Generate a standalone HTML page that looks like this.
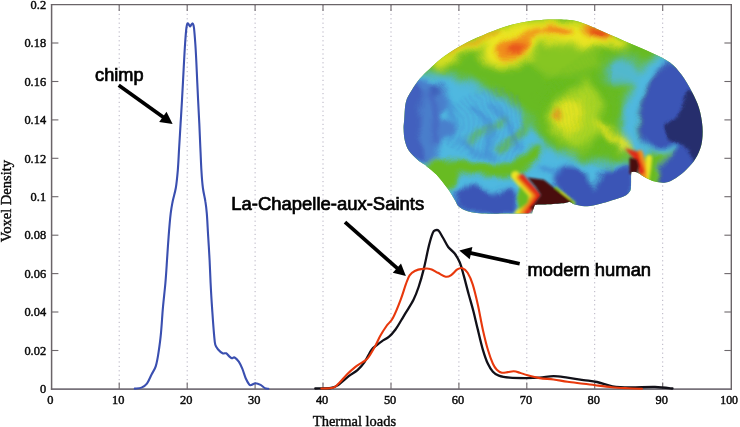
<!DOCTYPE html>
<html><head><meta charset="utf-8"><title>Voxel density vs thermal loads</title>
<style>
html,body{margin:0;padding:0;background:#fff}
svg{display:block}
.tk{font-family:"Liberation Serif",serif;font-size:12.4px;fill:#0a0a0a;stroke:#0a0a0a;stroke-width:0.45px}
.ax{font-family:"Liberation Serif",serif;font-size:14.5px;fill:#0a0a0a;stroke:#0a0a0a;stroke-width:0.4px}
.lb{font-family:"Liberation Sans",sans-serif;font-size:18.2px;fill:#000;stroke:#000;stroke-width:0.7px}
</style></head><body>
<svg width="740" height="427" viewBox="0 0 740 427">
<rect width="740" height="427" fill="#fff"/>
<g stroke="#b4b0c0" stroke-width="1" stroke-dasharray="1.2 3.2"><line x1="119.2" y1="5" x2="119.2" y2="388" /><line x1="187.2" y1="5" x2="187.2" y2="388" /><line x1="255.1" y1="5" x2="255.1" y2="388" /><line x1="323.0" y1="5" x2="323.0" y2="388" /><line x1="391.0" y1="5" x2="391.0" y2="388" /><line x1="458.9" y1="5" x2="458.9" y2="388" /><line x1="526.8" y1="5" x2="526.8" y2="388" /><line x1="594.7" y1="5" x2="594.7" y2="388" /><line x1="662.7" y1="5" x2="662.7" y2="388" /></g>
<defs><clipPath id="bc"><path d="M404.2 120.0C404.6 115.5 404.6 107.0 405.9 102.0C407.1 97.0 409.4 94.2 411.7 90.3C414.0 86.4 417.0 82.1 419.9 78.6C422.8 75.1 425.8 72.5 429.3 69.2C432.8 65.9 436.1 62.4 441.0 58.7C445.9 55.0 452.6 50.5 458.6 47.0C464.7 43.5 470.7 40.6 477.3 37.6C483.9 34.6 491.8 31.2 498.4 28.9C505.0 26.5 511.1 24.9 517.2 23.5C523.3 22.1 528.5 21.2 535.0 20.5C541.5 19.8 548.8 19.3 556.0 19.5C563.2 19.7 569.8 19.3 578.0 21.5C586.2 23.7 596.5 28.9 605.0 32.5C613.5 36.1 621.2 39.6 629.0 43.0C636.8 46.4 645.2 49.8 652.0 53.0C658.8 56.2 665.1 58.9 670.0 62.5C674.9 66.1 677.7 69.7 681.4 74.6C685.1 79.5 689.1 86.4 692.0 92.0C694.9 97.6 697.2 102.2 699.0 108.0C700.8 113.8 702.1 120.9 702.5 127.0C702.9 133.1 702.6 139.4 701.4 144.7C700.2 150.0 697.8 154.7 695.4 158.8C693.0 162.9 689.9 166.1 686.7 169.3C683.5 172.5 679.5 175.8 676.0 178.0C672.5 180.2 669.1 182.0 665.6 182.6C662.1 183.2 658.2 182.4 655.0 181.6C651.8 180.8 649.1 179.4 646.3 178.0C643.5 176.6 640.3 173.9 638.0 172.9C635.7 171.9 633.7 171.8 632.6 171.9C631.5 172.0 631.5 170.7 631.2 173.4C630.9 176.1 631.3 184.8 630.9 188.0C630.5 191.2 630.1 191.2 629.0 192.5C627.9 193.8 627.0 194.8 624.5 196.0C622.0 197.2 618.7 198.3 614.0 199.8C609.3 201.3 601.4 203.7 596.5 204.8C591.6 205.9 588.2 206.3 584.6 206.3C581.0 206.3 577.4 205.3 575.0 204.6C572.6 203.9 571.7 202.2 570.0 201.9C568.3 201.6 568.5 202.6 565.0 203.0C561.5 203.4 553.8 204.0 549.0 204.3C544.2 204.6 538.6 204.5 536.2 204.7C533.8 204.9 535.3 204.3 534.6 205.6C533.9 206.9 532.8 211.1 532.2 212.4C531.6 213.7 534.3 213.1 531.0 213.3C527.7 213.5 520.7 213.6 512.5 213.6C504.3 213.6 489.6 213.8 482.0 213.4C474.4 213.0 470.9 212.1 467.0 211.0C463.1 209.9 460.8 208.5 458.7 206.6C456.6 204.7 456.5 202.7 454.6 199.7C452.8 196.7 450.6 192.8 447.6 188.6C444.6 184.4 440.1 178.5 436.6 174.8C433.1 171.1 428.5 167.9 426.5 166.2C424.5 164.5 426.1 165.7 424.5 164.6C422.9 163.5 419.8 161.7 417.2 159.4C414.6 157.1 410.9 153.9 408.9 150.8C406.8 147.7 405.8 144.6 404.9 141.0C404.0 137.4 403.7 132.5 403.6 129.0C403.5 125.5 403.8 124.5 404.2 120.0Z"/></clipPath><filter id="b4" x="-20%" y="-20%" width="140%" height="140%"><feGaussianBlur stdDeviation="4"/></filter><filter id="b25" x="-20%" y="-20%" width="140%" height="140%"><feGaussianBlur stdDeviation="2.5"/></filter><filter id="b15" x="-20%" y="-20%" width="140%" height="140%"><feGaussianBlur stdDeviation="1.4"/></filter><filter id="b08" x="-20%" y="-20%" width="140%" height="140%"><feGaussianBlur stdDeviation="0.8"/></filter><filter id="warp" filterUnits="userSpaceOnUse" x="385" y="0" width="340" height="235"><feTurbulence type="fractalNoise" baseFrequency="0.045" numOctaves="2" seed="7" result="n"/><feDisplacementMap in="SourceGraphic" in2="n" scale="11" xChannelSelector="R" yChannelSelector="G"/></filter></defs>
<g clip-path="url(#bc)"><rect x="380" y="0" width="350" height="240" fill="#68bb22"/><g filter="url(#warp)"><rect x="380" y="0" width="350" height="240" fill="#68bb22"/><g filter="url(#b4)"><polygon points="395.0,70.0 430.0,72.0 458.6,77.0 482.0,87.0 505.5,98.0 522.0,109.0 532.0,121.0 540.0,136.0 548.0,146.0 558.0,151.0 582.0,158.0 605.0,161.0 629.0,163.0 640.0,166.0 640.0,225.0 450.0,225.0 395.0,160.0" fill="#4fb8e0"/><ellipse cx="622.0" cy="70.0" rx="19.0" ry="13.0" fill="#4fb8e0" transform="rotate(-10 622.0 70.0)" opacity="0.90"/><ellipse cx="640.0" cy="84.0" rx="10.0" ry="12.0" fill="#4fb8e0" opacity="0.70"/><polyline points="666.0,62.0 652.0,73.0 641.0,88.0 633.0,108.0 630.0,128.0 632.0,142.0 642.0,151.0" fill="none" stroke="#4fb8e0" stroke-width="20.0" stroke-linecap="round" stroke-linejoin="round"/></g><g filter="url(#b25)"><polyline points="432.0,168.0 458.6,166.0 482.0,169.5 500.0,171.0 513.0,170.0 524.0,164.0 536.0,152.0" fill="none" stroke="#68bb22" stroke-width="13.0" stroke-linecap="round" stroke-linejoin="round"/><polygon points="430.0,163.0 450.0,168.0 457.0,176.0 453.0,186.0 447.0,192.0 430.0,184.0 424.0,167.0" fill="#68bb22"/><polyline points="470.0,140.0 490.0,128.0 505.0,120.0" fill="none" stroke="#68bb22" stroke-width="7.0" stroke-linecap="round" stroke-linejoin="round" opacity="0.60"/><polyline points="500.0,150.0 520.0,135.0 530.0,120.0" fill="none" stroke="#68bb22" stroke-width="8.0" stroke-linecap="round" stroke-linejoin="round" opacity="0.70"/><polyline points="474.0,108.0 486.0,122.0 492.0,140.0 488.0,152.0" fill="none" stroke="#3f7ccf" stroke-width="6.0" stroke-linecap="round" stroke-linejoin="round" opacity="0.55"/><polyline points="492.0,106.0 506.0,120.0 514.0,136.0 516.0,150.0" fill="none" stroke="#3f7ccf" stroke-width="6.0" stroke-linecap="round" stroke-linejoin="round" opacity="0.50"/><polyline points="448.0,100.0 454.0,118.0 452.0,136.0" fill="none" stroke="#3f7ccf" stroke-width="7.0" stroke-linecap="round" stroke-linejoin="round" opacity="0.50"/><polyline points="462.0,140.0 476.0,152.0 494.0,158.0" fill="none" stroke="#3f7ccf" stroke-width="6.0" stroke-linecap="round" stroke-linejoin="round" opacity="0.50"/><polyline points="649.0,182.0 654.0,168.0 662.0,157.0 673.0,149.0" fill="none" stroke="#68bb22" stroke-width="9.0" stroke-linecap="round" stroke-linejoin="round"/><polygon points="395.0,80.0 423.0,78.6 447.0,90.0 446.0,109.0 438.0,120.0 452.0,122.0 460.0,130.0 442.0,140.0 436.0,160.0 425.8,164.0 395.0,160.0" fill="#4a7fcc"/><polygon points="395.0,84.0 416.0,84.0 424.0,92.0 420.0,108.0 419.0,128.0 424.0,150.0 426.0,164.0 395.0,160.0" fill="#4360be"/><ellipse cx="436.0" cy="90.0" rx="7.0" ry="7.0" fill="#3f5cb8" opacity="0.80"/><polyline points="430.0,96.0 434.0,112.0 432.0,128.0 436.0,140.0" fill="none" stroke="#4666c2" stroke-width="7.0" stroke-linecap="round" stroke-linejoin="round" opacity="0.80"/><polygon points="456.0,188.0 477.0,185.6 493.7,194.0 510.0,186.8 517.0,197.0 516.0,215.0 470.0,215.0 454.0,203.0" fill="#3b55b6"/><polygon points="553.0,179.0 558.0,169.0 568.0,165.0 580.0,167.0 588.0,173.0 598.0,171.0 612.0,170.0 628.0,165.0 634.0,172.0 634.0,215.0 575.0,215.0 572.0,200.0 560.0,190.0" fill="#3b55b6"/><polygon points="585.0,168.0 601.0,168.0 598.0,182.0 593.5,190.0 589.0,182.0" fill="#4fb8e0"/><polyline points="542.0,166.0 552.0,170.0 560.0,172.0" fill="none" stroke="#3f7ccf" stroke-width="5.0" stroke-linecap="round" stroke-linejoin="round" opacity="0.70"/><polygon points="668.0,60.0 690.0,70.0 712.0,90.0 712.0,190.0 660.0,190.0 657.0,168.0 668.0,158.0 676.0,148.0 662.0,151.0 650.0,149.0 642.0,143.0 638.0,132.0 639.0,112.0 644.0,96.0 650.0,84.0 658.0,72.0" fill="#3b55b6"/><polyline points="640.0,140.0 647.0,147.0 656.0,150.5 666.0,151.0 675.0,146.5" fill="none" stroke="#4fb8e0" stroke-width="4.5" stroke-linecap="round" stroke-linejoin="round"/></g><g filter="url(#b4)"><polyline points="438.0,64.0 458.6,50.5 477.3,41.0 498.4,33.0 517.2,28.0 535.0,25.5 556.0,24.5 578.0,26.5 600.0,34.0 622.0,44.0" fill="none" stroke="#ece522" stroke-width="11.0" stroke-linecap="round" stroke-linejoin="round"/><ellipse cx="510.0" cy="49.5" rx="29.0" ry="17.0" fill="#ece522" transform="rotate(-18 510.0 49.5)"/><ellipse cx="572.0" cy="35.0" rx="46.0" ry="11.0" fill="#ece522" transform="rotate(5 572.0 35.0)"/><ellipse cx="566.0" cy="60.0" rx="36.0" ry="17.0" fill="#b4d826" opacity="0.40"/><polygon points="588.0,80.0 601.0,104.0 601.0,132.0 586.0,146.0 572.0,152.0 556.0,138.0 545.0,114.0 558.0,97.0 574.0,90.0" fill="#b4d826"/><ellipse cx="568.0" cy="116.0" rx="15.0" ry="19.0" fill="#ece522" transform="rotate(20 568.0 116.0)"/><polyline points="598.0,122.0 612.0,133.0 626.0,148.0" fill="none" stroke="#ece522" stroke-width="7.0" stroke-linecap="round" stroke-linejoin="round"/><polyline points="610.0,130.0 624.0,148.0" fill="none" stroke="#ece522" stroke-width="5.0" stroke-linecap="round" stroke-linejoin="round"/></g><g filter="url(#b25)"><ellipse cx="513.5" cy="48.5" rx="18.0" ry="11.0" fill="#f08c1e" transform="rotate(-22 513.5 48.5)"/><polyline points="520.0,40.0 530.0,34.0 538.0,31.0" fill="none" stroke="#f08c1e" stroke-width="6.0" stroke-linecap="round" stroke-linejoin="round"/><polyline points="452.0,52.0 466.0,44.5 482.0,37.5 500.0,30.5" fill="none" stroke="#f08c1e" stroke-width="2.5" stroke-linecap="round" stroke-linejoin="round" opacity="0.90"/><ellipse cx="516.5" cy="49.5" rx="9.0" ry="6.5" fill="#e8501a" transform="rotate(-20 516.5 49.5)" opacity="0.85"/><ellipse cx="557.0" cy="30.5" rx="16.0" ry="4.5" fill="#f08c1e" transform="rotate(2 557.0 30.5)"/><ellipse cx="597.0" cy="31.0" rx="16.0" ry="5.5" fill="#f08c1e" transform="rotate(14 597.0 31.0)"/><ellipse cx="598.0" cy="31.0" rx="10.0" ry="3.6" fill="#e02a14" transform="rotate(14 598.0 31.0)" opacity="0.75"/><ellipse cx="570.0" cy="113.0" rx="9.0" ry="13.0" fill="#f2e824" transform="rotate(20 570.0 113.0)" opacity="0.85"/><ellipse cx="558.0" cy="115.0" rx="5.0" ry="7.0" fill="#f08c1e" opacity="0.80"/><polyline points="603.0,125.0 614.0,136.0 625.0,148.0" fill="none" stroke="#ece522" stroke-width="4.5" stroke-linecap="round" stroke-linejoin="round" opacity="0.90"/></g><path d="M533.7 93.7 A44.0 44.0 0 0 1 540.2 139.9M536.8 91.1 A48.0 48.0 0 0 1 543.9 141.5M539.8 88.6 A52.0 52.0 0 0 1 547.5 143.2M542.9 86.0 A56.0 56.0 0 0 1 551.2 144.8M546.0 83.4 A60.0 60.0 0 0 1 554.8 146.4M549.0 80.9 A64.0 64.0 0 0 1 558.5 148.0M552.1 78.3 A68.0 68.0 0 0 1 562.1 149.7M555.2 75.7 A72.0 72.0 0 0 1 565.8 151.3M558.2 73.1 A76.0 76.0 0 0 1 569.4 152.9M561.3 70.6 A80.0 80.0 0 0 1 573.1 154.5M564.3 68.0 A84.0 84.0 0 0 1 576.7 156.2M567.4 65.4 A88.0 88.0 0 0 1 580.4 157.8M570.5 62.9 A92.0 92.0 0 0 1 584.0 159.4M573.5 60.3 A96.0 96.0 0 0 1 587.7 161.0M576.6 57.7 A100.0 100.0 0 0 1 591.4 162.7M579.7 55.2 A104.0 104.0 0 0 1 595.0 164.3M582.7 52.6 A108.0 108.0 0 0 1 598.7 165.9M585.8 50.0 A112.0 112.0 0 0 1 602.3 167.6M588.9 47.4 A116.0 116.0 0 0 1 606.0 169.2M591.9 44.9 A120.0 120.0 0 0 1 609.6 170.8" fill="none" stroke="#68bb22" stroke-width="1.7" opacity="0.38" filter="url(#b08)"/><path d="M447.7 107.3 A22.0 22.0 0 0 1 449.5 143.3M451.4 103.8 A27.0 27.0 0 0 1 453.4 146.6M455.5 100.6 A32.0 32.0 0 0 1 457.6 149.6M459.9 97.8 A37.0 37.0 0 0 1 462.0 152.3M464.6 95.3 A42.0 42.0 0 0 1 466.7 154.6M469.7 93.2 A47.0 47.0 0 0 1 471.6 156.7M474.9 91.5 A52.0 52.0 0 0 1 476.7 158.4M480.5 90.3 A57.0 57.0 0 0 1 482.0 159.7M486.2 89.6 A62.0 62.0 0 0 1 487.4 160.7M492.0 89.3 A67.0 67.0 0 0 1 493.0 161.3M498.0 89.5 A72.0 72.0 0 0 1 498.7 161.5M504.1 90.1 A77.0 77.0 0 0 1 504.5 161.3M510.3 91.3 A82.0 82.0 0 0 1 510.3 160.7M516.5 93.1 A87.0 87.0 0 0 1 516.2 159.6" fill="none" stroke="#4a86d0" stroke-width="2" opacity="0.32" filter="url(#b08)"/><g filter="url(#b15)"><polygon points="688.0,90.0 712.0,100.0 712.0,165.0 695.0,160.0 683.0,146.0 667.0,139.0 664.0,125.0 676.0,117.0 685.0,103.0" fill="#272f6d"/></g></g><g filter="url(#b15)"><polyline points="515.5,175.5 530.0,193.0 532.5,201.0 519.0,214.0" fill="none" stroke="#ece522" stroke-width="9.0" stroke-linecap="round" stroke-linejoin="round"/><polyline points="520.0,177.5 536.0,195.0 523.0,214.0" fill="none" stroke="#f08c1e" stroke-width="7.0" stroke-linecap="round" stroke-linejoin="round"/><polyline points="522.0,177.0 539.0,195.5 527.0,213.0" fill="none" stroke="#e02a14" stroke-width="5.5" stroke-linecap="round" stroke-linejoin="round"/><polygon points="520.0,186.0 529.0,196.0 528.0,203.0 519.0,210.0 517.0,198.0" fill="#68bb22"/></g><g filter="url(#b08)"><polyline points="556.0,188.5 566.0,196.5 574.0,203.0" fill="none" stroke="#8cc828" stroke-width="3.2" stroke-linecap="round" stroke-linejoin="round"/><polyline points="561.0,192.0 570.0,199.5" fill="none" stroke="#ece522" stroke-width="1.6" stroke-linecap="round" stroke-linejoin="round" opacity="0.90"/><polygon points="527.6,177.6 543.9,179.7 571.0,200.7 573.0,206.0 536.0,212.0 530.0,208.0 534.4,203.4 540.8,195.0 535.7,187.0" fill="#4a0c0e"/></g><g filter="url(#b15)"><polyline points="649.0,158.0 648.0,168.0 646.0,180.0" fill="none" stroke="#ece522" stroke-width="6.0" stroke-linecap="round" stroke-linejoin="round"/><polyline points="640.0,153.0 643.0,165.0 644.0,178.0" fill="none" stroke="#f08c1e" stroke-width="6.0" stroke-linecap="round" stroke-linejoin="round"/><polygon points="624.6,148.0 638.5,152.0 640.0,158.0 645.0,172.0 640.0,176.0 632.8,157.8" fill="#e02a14"/></g><g filter="url(#b08)"><polygon points="629.5,157.5 637.0,159.5 639.0,166.0 637.0,174.0 629.5,174.0" fill="#4a0c0e"/></g></g>

<g stroke="#6a6468" fill="none"><line x1="50.9" y1="4.5" x2="732" y2="4.5" stroke-width="1.25"/><line x1="50.9" y1="389.1" x2="732" y2="389.1" stroke-width="1.6" stroke="#77727a"/><line x1="51.6" y1="4" x2="51.6" y2="389.8" stroke-width="1.5"/><line x1="731.3" y1="4" x2="731.3" y2="389.8" stroke-width="1.4"/></g>
<g stroke="#6e686c" stroke-width="1.1"><line x1="119.2" y1="388.9" x2="119.2" y2="382.4"/><line x1="119.2" y1="4.6" x2="119.2" y2="11.1"/><line x1="187.2" y1="388.9" x2="187.2" y2="382.4"/><line x1="187.2" y1="4.6" x2="187.2" y2="11.1"/><line x1="255.1" y1="388.9" x2="255.1" y2="382.4"/><line x1="255.1" y1="4.6" x2="255.1" y2="11.1"/><line x1="323.0" y1="388.9" x2="323.0" y2="382.4"/><line x1="323.0" y1="4.6" x2="323.0" y2="11.1"/><line x1="391.0" y1="388.9" x2="391.0" y2="382.4"/><line x1="391.0" y1="4.6" x2="391.0" y2="11.1"/><line x1="458.9" y1="388.9" x2="458.9" y2="382.4"/><line x1="458.9" y1="4.6" x2="458.9" y2="11.1"/><line x1="526.8" y1="388.9" x2="526.8" y2="382.4"/><line x1="526.8" y1="4.6" x2="526.8" y2="11.1"/><line x1="594.7" y1="388.9" x2="594.7" y2="382.4"/><line x1="594.7" y1="4.6" x2="594.7" y2="11.1"/><line x1="662.7" y1="388.9" x2="662.7" y2="382.4"/><line x1="662.7" y1="4.6" x2="662.7" y2="11.1"/><line x1="51.6" y1="350.5" x2="58.4" y2="350.5"/><line x1="731.2" y1="350.5" x2="724.4" y2="350.5"/><line x1="51.6" y1="312.0" x2="58.4" y2="312.0"/><line x1="731.2" y1="312.0" x2="724.4" y2="312.0"/><line x1="51.6" y1="273.6" x2="58.4" y2="273.6"/><line x1="731.2" y1="273.6" x2="724.4" y2="273.6"/><line x1="51.6" y1="235.2" x2="58.4" y2="235.2"/><line x1="731.2" y1="235.2" x2="724.4" y2="235.2"/><line x1="51.6" y1="196.7" x2="58.4" y2="196.7"/><line x1="731.2" y1="196.7" x2="724.4" y2="196.7"/><line x1="51.6" y1="158.3" x2="58.4" y2="158.3"/><line x1="731.2" y1="158.3" x2="724.4" y2="158.3"/><line x1="51.6" y1="119.9" x2="58.4" y2="119.9"/><line x1="731.2" y1="119.9" x2="724.4" y2="119.9"/><line x1="51.6" y1="81.5" x2="58.4" y2="81.5"/><line x1="731.2" y1="81.5" x2="724.4" y2="81.5"/><line x1="51.6" y1="43.0" x2="58.4" y2="43.0"/><line x1="731.2" y1="43.0" x2="724.4" y2="43.0"/></g>
<g class="tk"><text x="50.4" y="403.6" text-anchor="middle">0</text><text x="118.3" y="403.6" text-anchor="middle">10</text><text x="186.3" y="403.6" text-anchor="middle">20</text><text x="254.2" y="403.6" text-anchor="middle">30</text><text x="322.1" y="403.6" text-anchor="middle">40</text><text x="390.1" y="403.6" text-anchor="middle">50</text><text x="458.0" y="403.6" text-anchor="middle">60</text><text x="525.9" y="403.6" text-anchor="middle">70</text><text x="593.8" y="403.6" text-anchor="middle">80</text><text x="661.8" y="403.6" text-anchor="middle">90</text><text x="738" y="403.6" text-anchor="end" style="font-size:11.8px">100</text><text x="46.1" y="393.1" text-anchor="end">0</text><text x="46.1" y="354.7" text-anchor="end">0.02</text><text x="46.1" y="316.2" text-anchor="end">0.04</text><text x="46.1" y="277.8" text-anchor="end">0.06</text><text x="46.1" y="239.4" text-anchor="end">0.08</text><text x="46.1" y="200.9" text-anchor="end">0.1</text><text x="46.1" y="162.5" text-anchor="end">0.12</text><text x="46.1" y="124.1" text-anchor="end">0.14</text><text x="46.1" y="85.7" text-anchor="end">0.16</text><text x="46.1" y="47.2" text-anchor="end">0.18</text><text x="46.1" y="8.8" text-anchor="end">0.2</text></g>
<text class="ax" x="354.5" y="425.6" text-anchor="middle">Thermal loads</text>
<text class="ax" transform="translate(11,201.2) rotate(-90)" text-anchor="middle">Voxel Density</text>
<path d="M134.8 388.6C135.9 388.4 139.5 388.4 141.5 387.6C143.5 386.8 145.2 385.8 146.9 383.6C148.6 381.4 150.2 377.1 151.7 374.2C153.2 371.3 154.7 369.7 155.8 366.1C156.9 362.5 157.7 358.0 158.5 352.6C159.3 347.2 160.2 341.4 160.9 333.8C161.7 326.2 162.2 315.4 163.0 306.9C163.8 298.4 164.7 290.8 165.4 283.0C166.1 275.2 166.5 268.0 167.0 260.3C167.5 252.6 168.0 244.6 168.6 236.8C169.2 229.0 170.0 219.2 170.7 213.4C171.4 207.6 171.8 205.9 172.6 201.7C173.4 197.5 174.9 193.2 175.8 188.0C176.7 182.8 177.2 177.2 177.8 170.3C178.4 163.4 178.7 154.6 179.2 146.8C179.7 139.0 180.1 131.2 180.6 123.4C181.1 115.6 181.5 108.9 182.0 100.0C182.5 91.1 183.1 79.7 183.6 70.0C184.1 60.3 184.7 49.0 185.2 42.0C185.7 35.0 186.0 31.1 186.4 28.0C186.8 24.9 187.0 24.2 187.4 23.6C187.8 23.0 188.2 23.7 188.6 24.2C189.0 24.7 189.5 26.3 190.0 26.4C190.5 26.5 190.9 25.1 191.4 24.6C191.9 24.1 192.4 23.0 192.8 23.6C193.2 24.2 193.6 24.4 194.0 28.0C194.4 31.6 194.9 37.7 195.4 45.0C195.9 52.3 196.4 62.8 196.8 72.0C197.2 81.2 197.7 91.4 198.1 100.0C198.5 108.6 198.9 115.6 199.3 123.4C199.7 131.2 200.0 139.0 200.3 146.8C200.7 154.6 201.0 163.4 201.4 170.3C201.8 177.2 202.2 182.8 202.9 188.0C203.6 193.2 204.8 197.5 205.4 201.7C206.1 205.9 206.3 207.6 206.8 213.4C207.3 219.2 207.7 229.0 208.2 236.8C208.7 244.6 209.2 252.6 209.6 260.3C210.0 268.0 210.2 275.2 210.6 283.0C211.0 290.8 211.4 298.4 212.0 306.9C212.6 315.4 213.4 327.5 214.0 333.8C214.6 340.1 214.6 342.2 215.3 344.8C216.0 347.4 217.2 348.3 218.4 349.7C219.6 351.1 221.3 352.7 222.6 353.3C223.9 353.9 225.1 352.8 226.2 353.3C227.3 353.8 228.1 355.3 229.0 356.1C229.9 356.9 230.9 358.0 231.8 358.2C232.7 358.4 233.4 356.9 234.6 357.5C235.8 358.1 237.5 359.8 238.8 361.7C240.1 363.6 241.1 365.9 242.3 368.7C243.5 371.5 244.6 375.9 245.8 378.5C247.0 381.1 248.4 383.5 249.3 384.6C250.2 385.7 250.4 385.1 251.4 384.9C252.4 384.7 254.1 383.2 255.6 383.2C257.1 383.2 259.1 384.1 260.6 384.9C262.1 385.7 263.5 387.5 264.8 388.1C266.1 388.8 267.7 388.7 268.3 388.8" fill="none" stroke="#3a4fb0" stroke-width="2.1" stroke-linejoin="round" stroke-linecap="round"/>
<path d="M315.3 388.5C317.9 388.4 327.2 388.6 331.0 388.0C334.8 387.4 335.2 387.0 338.1 385.0C341.1 383.0 345.5 378.7 348.7 376.2C351.9 373.7 354.9 372.4 357.5 370.1C360.1 367.8 362.2 365.6 364.5 362.2C366.8 358.8 369.4 352.8 371.5 349.9C373.6 347.0 375.0 346.6 376.8 345.1C378.6 343.6 380.1 342.5 382.1 341.1C384.2 339.7 386.9 338.6 389.1 336.7C391.3 334.8 393.4 332.3 395.5 329.5C397.6 326.7 399.7 322.8 401.4 320.0C403.1 317.2 403.8 316.1 405.8 312.7C407.8 309.3 411.4 304.1 413.5 299.8C415.6 295.5 416.9 292.1 418.6 287.0C420.3 281.9 422.1 275.8 423.8 268.9C425.5 262.0 427.4 251.8 428.9 245.8C430.4 239.8 431.7 235.5 432.8 232.9C433.9 230.3 434.4 230.7 435.4 230.3C436.4 230.0 437.4 229.5 438.7 230.8C440.0 232.1 441.5 235.3 443.1 238.0C444.7 240.7 446.3 244.4 448.2 247.0C450.1 249.6 452.8 250.9 454.7 253.5C456.6 256.1 458.3 258.9 459.8 262.5C461.3 266.1 462.2 270.0 463.7 275.4C465.2 280.8 467.1 288.6 468.8 294.7C470.5 300.8 472.1 306.1 473.6 312.0C475.1 317.9 476.3 323.6 477.9 329.9C479.4 336.2 481.2 344.1 482.9 349.8C484.6 355.5 486.2 360.2 487.9 363.8C489.6 367.4 491.1 369.7 492.9 371.7C494.7 373.7 496.0 374.7 498.8 375.7C501.6 376.7 505.3 377.3 509.8 377.7C514.3 378.1 520.7 378.1 525.7 378.1C530.7 378.1 535.1 378.0 539.7 377.7C544.4 377.4 549.0 376.1 553.6 376.1C558.2 376.1 562.5 377.0 567.5 377.7C572.5 378.4 578.6 379.4 583.5 380.1C588.4 380.8 592.2 381.0 597.0 382.0C601.8 383.0 607.0 385.4 612.5 386.3C618.0 387.2 622.9 387.4 630.0 387.5C637.1 387.6 647.9 386.8 655.0 387.0C662.1 387.2 669.6 388.2 672.5 388.5" fill="none" stroke="#111018" stroke-width="2.3" stroke-linejoin="round" stroke-linecap="round"/>
<path d="M321.4 388.5C323.3 388.4 330.0 388.4 332.8 387.7C335.6 387.0 335.8 386.3 338.1 384.1C340.5 381.9 344.0 377.4 346.9 374.5C349.8 371.6 353.1 368.7 355.7 366.6C358.3 364.6 360.6 363.7 362.7 362.2C364.8 360.7 365.9 360.4 368.0 357.8C370.1 355.2 372.9 350.1 375.0 346.4C377.1 342.7 378.4 339.2 380.3 335.8C382.2 332.4 384.4 329.0 386.5 326.0C388.6 323.0 390.5 322.3 392.9 317.9C395.2 313.5 398.5 305.4 400.6 299.8C402.8 294.2 404.3 288.5 405.8 284.4C407.3 280.3 408.1 277.6 409.6 275.4C411.1 273.2 412.7 272.1 414.8 271.0C416.9 269.9 419.9 269.2 422.5 268.9C425.1 268.5 427.6 268.2 430.2 268.9C432.8 269.5 435.3 271.5 437.9 272.8C440.5 274.1 443.5 276.3 445.7 276.7C447.9 277.1 448.9 276.6 450.8 275.4C452.7 274.2 455.4 270.6 457.3 269.4C459.2 268.2 460.7 267.6 462.4 268.2C464.1 268.8 465.9 270.1 467.6 272.8C469.3 275.5 471.0 279.0 472.7 284.4C474.4 289.8 476.2 297.4 477.9 305.0C479.6 312.6 481.2 322.4 482.9 329.9C484.6 337.4 486.2 344.1 487.9 349.8C489.6 355.5 491.4 360.5 492.9 363.8C494.4 367.1 495.3 368.2 496.8 369.7C498.3 371.2 500.0 372.3 501.8 372.7C503.6 373.1 505.8 372.3 507.8 372.1C509.8 371.9 511.8 371.2 513.8 371.3C515.8 371.4 517.4 372.0 519.7 372.7C522.0 373.4 524.4 374.4 527.7 375.3C531.0 376.2 535.4 377.4 539.7 378.1C544.0 378.8 549.0 378.9 553.6 379.5C558.2 380.1 562.5 381.1 567.5 381.8C572.5 382.5 578.9 383.2 583.5 383.8C588.1 384.4 590.6 384.6 595.4 385.2C600.1 385.8 606.6 386.7 612.0 387.2C617.4 387.7 623.0 388.0 628.0 388.3C633.0 388.6 639.7 388.7 642.0 388.8" fill="none" stroke="#e8380c" stroke-width="2.1" stroke-linejoin="round" stroke-linecap="round"/>
<line x1="118.7" y1="85.2" x2="163.7" y2="117.5" stroke="#000" stroke-width="3.7"/><polygon points="172.6,123.9 159.2,122.0 166.5,111.8" fill="#000"/>
<line x1="345.0" y1="222.2" x2="397.7" y2="268.7" stroke="#000" stroke-width="3.7"/><polygon points="405.9,276.0 392.8,272.7 401.0,263.4" fill="#000"/>
<line x1="519.7" y1="263.8" x2="470.0" y2="252.9" stroke="#000" stroke-width="3.7"/><polygon points="459.3,250.5 472.4,247.0 469.7,259.2" fill="#000"/>
<text class="lb" x="95.1" y="81.0">chimp</text>
<text class="lb" x="231.2" y="210.3" textLength="193" lengthAdjust="spacingAndGlyphs">La-Chapelle-aux-Saints</text>
<text class="lb" x="527.4" y="275.7" style="font-size:18.4px">modern human</text>
</svg></body></html>
